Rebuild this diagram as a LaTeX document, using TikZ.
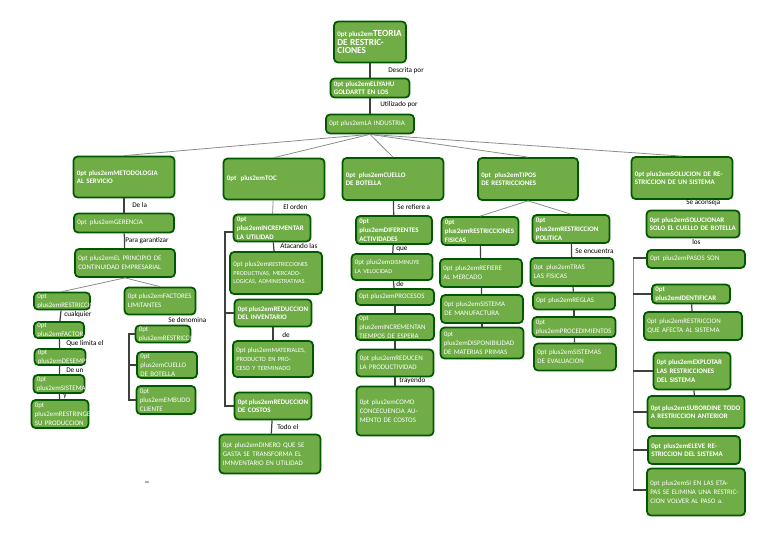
\documentclass[tikz,border=0pt]{standalone}
\usepackage{fontspec}
\setmainfont{Carlito}
\begin{document}
\begin{tikzpicture}[x=0.75pt,y=-0.75pt,
 box/.style={fill=gboxfill, line width=1.3pt, rounded corners=3pt, text=white, align=center, inner sep=0pt, font=\fontsize{5.2}{6.6}\selectfont\hyphenpenalty=10000},
 bb/.style={box, font=\fontsize{5.2}{6.6}\selectfont\bfseries\hyphenpenalty=10000},
 ln/.style={draw=black!75, line width=0.9pt},
 gl/.style={draw=black!45, line width=0.6pt},
 lab/.style={font=\fontsize{5.4}{6}\selectfont, text=black, inner sep=0pt, anchor=west}]
\definecolor{gboxfill}{RGB}{112,173,71}
\colorlet{gborder}{green!35!black}
\tikzset{box/.append style={draw=gborder}}
\useasboundingbox (0,0) rectangle (768,543);
\newcommand\bx[7]{\node[#6, minimum width=#4*0.75pt, minimum height=#5*0.75pt, text width=#4*0.75pt-5pt] (#1) at (#2,#3) {#7};}
% top
\bx{teo}{370}{42}{72}{41}{bb}{\fontsize{7}{8.5}\selectfont TEORIA DE RESTRICCIONES}
\bx{eli}{370}{88}{79}{19}{bb}{ELIYAHU GOLDARTT EN LOS}
\bx{ind}{370}{124}{88}{19}{box}{LA INDUSTRIA}
\draw[ln] (teo) -- (eli); \draw[ln] (eli) -- (ind);
\node[lab] at (388,71) {Descrita por};
\node[lab] at (380,105) {Utilizado por};
% col1
\bx{met}{124}{177}{101}{41}{bb}{METODOLOGIA AL SERVICIO}
\bx{ger}{124}{223}{100}{19}{box}{GERENCIA}
\bx{pri}{125}{263}{100}{28}{box}{EL PRINCIPIO DE CONTINUIDAD EMPRESARIAL}
\bx{res1}{62}{301}{56}{17}{box}{RESTRICCION}
\bx{fac}{160}{301}{71}{27}{box}{FACTORES LIMITANTES}
\bx{fct}{59}{330}{50}{16}{box}{FACTOR}
\bx{des}{60}{357}{51}{16}{box}{DESEMPEÑO}
\bx{sis}{59}{384}{51}{18}{box}{SISTEMA}
\bx{rsp}{60}{414}{57}{28}{box}{RESTRINGE SU PRODUCCION}
\bx{res2}{163}{334}{55}{17}{box}{RESTRICCION}
\bx{cue2}{167}{365}{60}{26}{box}{CUELLO DE BOTELLA}
\bx{emb}{166}{400}{59}{28}{box}{EMBUDO CLIENTE}
\draw[ln] (met) -- (ger); \draw[ln] (ger) -- (pri);
\draw[gl] (pri.south) -- (res1.north); \draw[gl] (pri.south) -- (fac.north);
\draw[ln] (res1) -- (fct); \draw[ln] (fct) -- (des); \draw[ln] (des) -- (sis); \draw[ln] (sis) -- (rsp);
\coordinate (b1t) at (129,334); \coordinate (b1b) at (129,400);
\draw[ln] (res2.west) -- (b1t) -- (b1b) -- (emb.west); \draw[ln] (129,365) -- (cue2.west);
\node[lab] at (132,205) {De la};
\node[lab] at (125,241) {Para garantizar};
\node[lab] at (64,315) {cualquier};
\node[lab] at (66,343) {Que limita el};
\node[lab] at (66,370) {De un};
\node[lab] at (63,396) {y};
\node[lab] at (168,320) {Se denomina};
\node[font=\fontsize{8}{8}\selectfont] at (147,484) {–};
% col2
\bx{toc}{274}{179}{101}{41}{bb}{TOC}
\bx{inc}{272}{228}{77}{27}{bb}{INCREMENTAR LA UTILIDAD}
\bx{rpm}{276}{273}{92}{42}{box}{\fontsize{4.6}{6.2}\selectfont RESTRICCIONES PRODUCTIVAS, MERCADOLOGICAS, ADMINISTRATIVAS}
\bx{rdi}{273}{313}{77}{27}{bb}{REDUCCION DEL INVENTARIO}
\bx{mat}{273}{359}{80}{36}{box}{\fontsize{4.8}{6.4}\selectfont MATERIALES, PRODUCTO EN PROCESO Y TERMINADO}
\bx{rdc}{273}{406}{77}{27}{bb}{REDUCCION DE COSTOS}
\bx{din}{270}{454}{101}{39}{box}{DINERO QUE SE GASTA SE TRANSFORMA EL IMNVENTARIO EN UTILIDAD}
\draw[gl] (toc) -- (inc); \draw[ln] (inc) -- (rpm); \draw[ln] (rdi) -- (mat); \draw[ln] (rdc) -- (din);
\coordinate (b2t) at (225,232); \coordinate (b2b) at (225,406);
\draw[ln] (inc.west|-b2t) -- (b2t) -- (b2b) -- (rdc.west); \draw[ln] (225,313) -- (rdi.west);
\node[lab] at (283,207) {El orden};
\node[lab] at (280,246) {Atacando las};
\node[lab] at (282,335) {de};
\node[lab] at (277,427) {Todo el};
% col3
\bx{cue}{393}{179}{101}{42}{bb}{CUELLO DE BOTELLA}
\bx{dif}{394}{230}{76}{28}{bb}{DIFERENTES ACTIVIDADES}
\bx{dis}{392}{267}{81}{26}{box}{\fontsize{4.6}{6.4}\selectfont DISMINUYE LA VELOCIDAD}
\bx{pro}{395}{297}{78}{16}{box}{PROCESOS}
\bx{ite}{395}{327}{78}{26}{box}{INCREMENTAN TIEMPOS DE ESPERA}
\bx{rlp}{395}{363}{77}{27}{box}{REDUCEN LA PRODUCTIVIDAD}
\bx{com}{395}{411}{77}{49}{box}{COMO CONCECUENCIA AUMENTO DE COSTOS}
\draw[ln] (cue) -- (dif); \draw[ln] (dif) -- (dis); \draw[ln] (dis) -- (pro); \draw[ln] (pro) -- (ite); \draw[ln] (ite) -- (rlp); \draw[ln] (rlp) -- (com);
\node[lab] at (397,207) {Se refiere a};
\node[lab] at (396,249) {que};
\node[lab] at (396,284) {de};
\node[lab] at (399,381) {trayendo};
% col4
\bx{tip}{528}{179}{100}{42}{bb}{TIPOS DE RESTRICCIONES}
\bx{rfi}{480}{231}{77}{28}{bb}{RESTRICCIONES FISICAS}
\bx{rpo}{571}{229}{77}{28}{bb}{RESTRICCION POLITICA}
\bx{ref}{481}{273}{82}{28}{box}{REFIERE AL MERCADO}
\bx{sma}{482}{309}{82}{28}{box}{SISTEMA DE MANUFACTURA}
\bx{dsp}{482}{343}{83}{31}{box}{DISPONIBILIDAD DE MATERIAS PRIMAS}
\bx{tra}{572}{272}{83}{28}{box}{TRAS LAS FISICAS}
\bx{reg}{574}{301}{82}{17}{box}{REGLAS}
\bx{prc}{574}{327}{83}{20}{box}{PROCEDIMIENTOS}
\bx{sev}{575}{357}{82}{27}{box}{SISTEMAS DE EVALUACION}
\draw[gl] (tip.south) -- (rfi.north); \draw[gl] (tip.south) -- (rpo.north);
\draw[ln] (rfi) -- (ref); \draw[ln] (ref) -- (sma); \draw[ln] (sma) -- (dsp);
\draw[ln] (rpo) -- (tra); \draw[ln] (tra) -- (reg); \draw[ln] (reg) -- (prc); \draw[ln] (prc) -- (sev);
\node[lab] at (575,251) {Se encuentra};
% col5
\bx{sol}{682}{178}{101}{42}{bb}{SOLUCION DE RESTRICCION DE UN SISTEMA}
\bx{scb}{693}{224}{93}{27}{bb}{SOLUCIONAR SOLO EL CUELLO DE BOTELLA}
\bx{pas}{696}{259}{98}{18}{box}{PASOS SON}
\bx{ide}{691}{294}{78}{19}{bb}{IDENTIFICAR}
\bx{rqa}{693}{326}{98}{28}{box}{RESTRICCION QUE AFECTA AL SISTEMA}
\bx{exp}{692}{371}{77}{37}{bb}{EXPLOTAR LAS RESTRICCIONES DEL SISTEMA}
\bx{sub}{696}{412}{97}{32}{bb}{SUBORDINE TODO A RESTRICCION ANTERIOR}
\bx{ele}{694}{450}{92}{28}{bb}{ELEVE RESTRICCION DEL SISTEMA}
\bx{sie}{696}{492}{98}{47}{box}{SI EN LAS ETAPAS SE ELIMINA UNA RESTRICCION VOLVER AL PASO a.}
\draw[ln] (ide) -- (rqa); \draw[ln] (exp) -- (sub);
\coordinate (b5t) at (633,258); \coordinate (b5b) at (633,490);
\draw[gl] (b5t) -- (b5b);
\foreach \n/\y in {pas/258,ide/294,exp/371,sub/412,ele/450,sie/490} \draw[ln] (633,\y) -- (\n.west|-0,\y);
\node[lab] at (686,203) {Se aconseja};
\node[lab] at (692,242) {los};
% top connectors
\foreach \n in {met,toc,cue,tip,sol} \draw[gl] (ind.south) -- (\n.north);
\end{tikzpicture}
\end{document}
